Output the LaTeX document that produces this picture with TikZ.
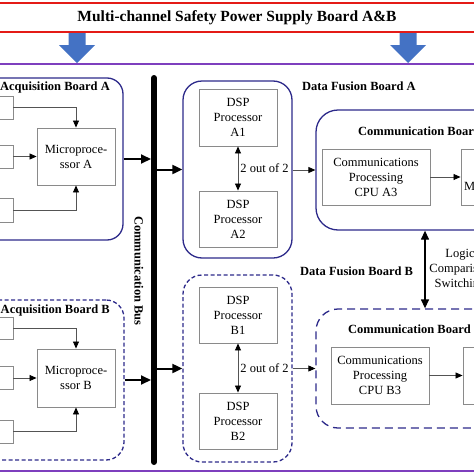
\documentclass[tikz,border=0pt]{standalone}
\usepackage{fontspec}
\setmainfont{Liberation Serif}
\usetikzlibrary{arrows.meta,positioning,calc}
\definecolor{pwrred}{HTML}{E41B17}
\definecolor{ctrlpurple}{HTML}{7E3FBE}
\definecolor{flowblue}{HTML}{4472C4}
\definecolor{navyline}{HTML}{2D2A8A}
\definecolor{unitgray}{HTML}{8A8A8A}
\newcommand{\unitfont}{\fontsize{12.5}{15}\selectfont}
\newcommand{\headfont}{\bfseries\fontsize{12.5}{15}\selectfont}

\begin{document}
\begin{tikzpicture}[x=1pt, y=-1pt,
    board/.style={draw=navyline, line width=1.3pt, rounded corners=16pt, inner sep=0pt},
    dashboard/.style={board, dash pattern=on 4pt off 2.5pt},
    unit/.style={draw=unitgray, line width=0.9pt, fill=white, inner sep=1pt, align=center, font=\unitfont},
    feed/.style={draw=unitgray!60!black, line width=0.8pt, -{Triangle[length=7pt,width=6pt,color=black]}},
    busarrow/.style={draw=black, line width=2pt, -{Triangle[length=10pt,width=9pt]}},
    boardlabel/.style={font=\headfont, inner sep=0pt}]
    \useasboundingbox (0,0) rectangle (474,474);
    \clip (0,0) rectangle (474,474);

    % Power supply and outer board
    \node[draw=pwrred, line width=2pt, minimum width=620, minimum height=29, inner sep=0pt,
          font=\bfseries\fontsize{15.5}{18}\selectfont] (pwr) at (237,17.5) {Multi-channel Safety Power Supply Board A\&B};
    \node[draw=ctrlpurple, line width=2pt, minimum width=620, minimum height=407, inner sep=0pt] (ctrl) at (237,267.5) {};
    \foreach \ax in {77,408}
      \fill[flowblue] (\ax-8.5,33) -- (\ax+8.5,33) -- (\ax+8.5,45) -- (\ax+18,45) -- (\ax,63)
                      -- (\ax-18,45) -- (\ax-8.5,45) -- cycle;

    % Acquisition boards
    \node[board, minimum width=143, minimum height=162] (acqA) at (51.5,159) {};
    \node[dashboard, minimum width=144, minimum height=160, rounded corners=18pt] (acqB) at (52,380) {};
    \node[boardlabel, anchor=east] (acqAlbl) at (110,87) {Acquisition Board A};
    \node[boardlabel, anchor=east] (acqBlbl) at (110,310) {Acquisition Board B};

    \node[unit, minimum width=78, minimum height=57] (microA) at (76,156.5) {Microproce-\\ssor A};
    \node[unit, minimum width=33, minimum height=23] (inA1) at (-3.5,107.5) {};
    \node[unit, minimum width=33, minimum height=23] (inA2) at (-3.5,156.5) {};
    \node[unit, minimum width=33, minimum height=24] (inA3) at (-3.5,210) {};
    \draw[feed] (inA1.east) -| (microA.north);
    \draw[feed] (inA2.east) -- (microA.west);
    \draw[feed] (inA3.east) -| (microA.south);

    \node[unit, minimum width=78, minimum height=58] (microB) at (76,378) {Microproce-\\ssor B};
    \node[unit, minimum width=33, minimum height=22] (inB1) at (-3.5,328) {};
    \node[unit, minimum width=33, minimum height=23] (inB2) at (-3.5,378) {};
    \node[unit, minimum width=33, minimum height=23] (inB3) at (-3.5,431.5) {};
    \draw[feed] (inB1.east) -| (microB.north);
    \draw[feed] (inB2.east) -- (microB.west);
    \draw[feed] (inB3.east) -| (microB.south);

    % Communication bus
    \coordinate (busT) at (154,78);
    \coordinate (busB) at (154,462);
    \draw[line width=6pt, line cap=round] (busT) -- (busB);
    \node[font=\headfont, rotate=-90] (buslbl) at (139,271) {Communication Bus};
    \draw[busarrow] (acqA.east) -- ($(busT |- acqA.east)+(-3,0)$);
    \draw[busarrow] (acqB.east) -- ($(busT |- acqB.east)+(-3,0)$);

    % Data fusion boards
    \node[board, rounded corners=19pt, minimum width=109, minimum height=177] (fusA) at (237.5,169.5) {};
    \node[dashboard, rounded corners=19pt, minimum width=109, minimum height=187] (fusB) at (237.5,368.5) {};
    \node[boardlabel, anchor=west] (fusAlbl) at (302,86) {Data Fusion Board A};
    \node[boardlabel, anchor=west] (fusBlbl) at (300,271) {Data Fusion Board B};
    \draw[busarrow] ($(busT |- fusA.west)+(3,0)$) -- (fusA.west);
    \draw[busarrow] ($(busT |- fusB.west)+(3,0)$) -- (fusB.west);

    \node[unit, minimum width=78, minimum height=57] (dspA1) at (238,117.5) {DSP\\Processor\\A1};
    \node[unit, minimum width=78, minimum height=56] (dspA2) at (238,219) {DSP\\Processor\\A2};
    \draw[feed, {Triangle[length=7pt,width=6pt,color=black]}-{Triangle[length=7pt,width=6pt,color=black]}]
      (dspA1.south) -- node[right, font=\unitfont, inner sep=2pt] (vtA) {2 out of 2} (dspA2.north);
    \node[unit, minimum width=78, minimum height=56] (dspB1) at (238,315) {DSP\\Processor\\B1};
    \node[unit, minimum width=78, minimum height=56] (dspB2) at (238,421) {DSP\\Processor\\B2};
    \draw[feed, {Triangle[length=7pt,width=6pt,color=black]}-{Triangle[length=7pt,width=6pt,color=black]}]
      (dspB1.south) -- node[right, font=\unitfont, inner sep=2pt] (vtB) {2 out of 2} (dspB2.north);

    % Communication boards
    \node[board, rounded corners=22pt, minimum width=204, minimum height=120] (comA) at (418,170) {};
    \node[board, rounded corners=22pt, dash pattern=on 8pt off 5pt, minimum width=204, minimum height=119] (comB) at (418,368.5) {};
    \node[boardlabel, anchor=west] (comAlbl) at (358,131) {Communication Board};
    \node[boardlabel, anchor=west] (comBlbl) at (348,329) {Communication Board};
    \draw[feed] (fusA.east |- comA.west) -- (comA.west);
    \draw[feed] (fusB.east |- comB.west) -- (comB.west);

    \node[unit, minimum width=108, minimum height=56] (cpuA3) at (376,177) {Communications\\Processing\\CPU A3};
    \node[unit, minimum width=60, minimum height=56] (mA) at (491,177) {};
    \node[font=\unitfont, anchor=west, inner sep=0pt] (mAtxt) at (464,186) {M};
    \draw[feed] (cpuA3.east) -- (mA.west);
    \node[unit, minimum width=98, minimum height=57] (cpuB3) at (380,375.5) {Communications\\Processing\\CPU B3};
    \node[unit, minimum width=60, minimum height=57] (mB) at (493,375.5) {};
    \draw[feed] (cpuB3.east) -- (mB.west);

    % Logic comparison link
    \coordinate (lg) at (425,0);
    \draw[line width=1.3pt, {Triangle[length=9pt,width=8pt]}-{Triangle[length=9pt,width=8pt]}]
      (comA.south -| lg) -- (comB.north -| lg);
    \node[font=\unitfont, align=center] (lgtxt) at (460,270) {Logic\\Comparison\\Switching};
\end{tikzpicture}
\end{document}
